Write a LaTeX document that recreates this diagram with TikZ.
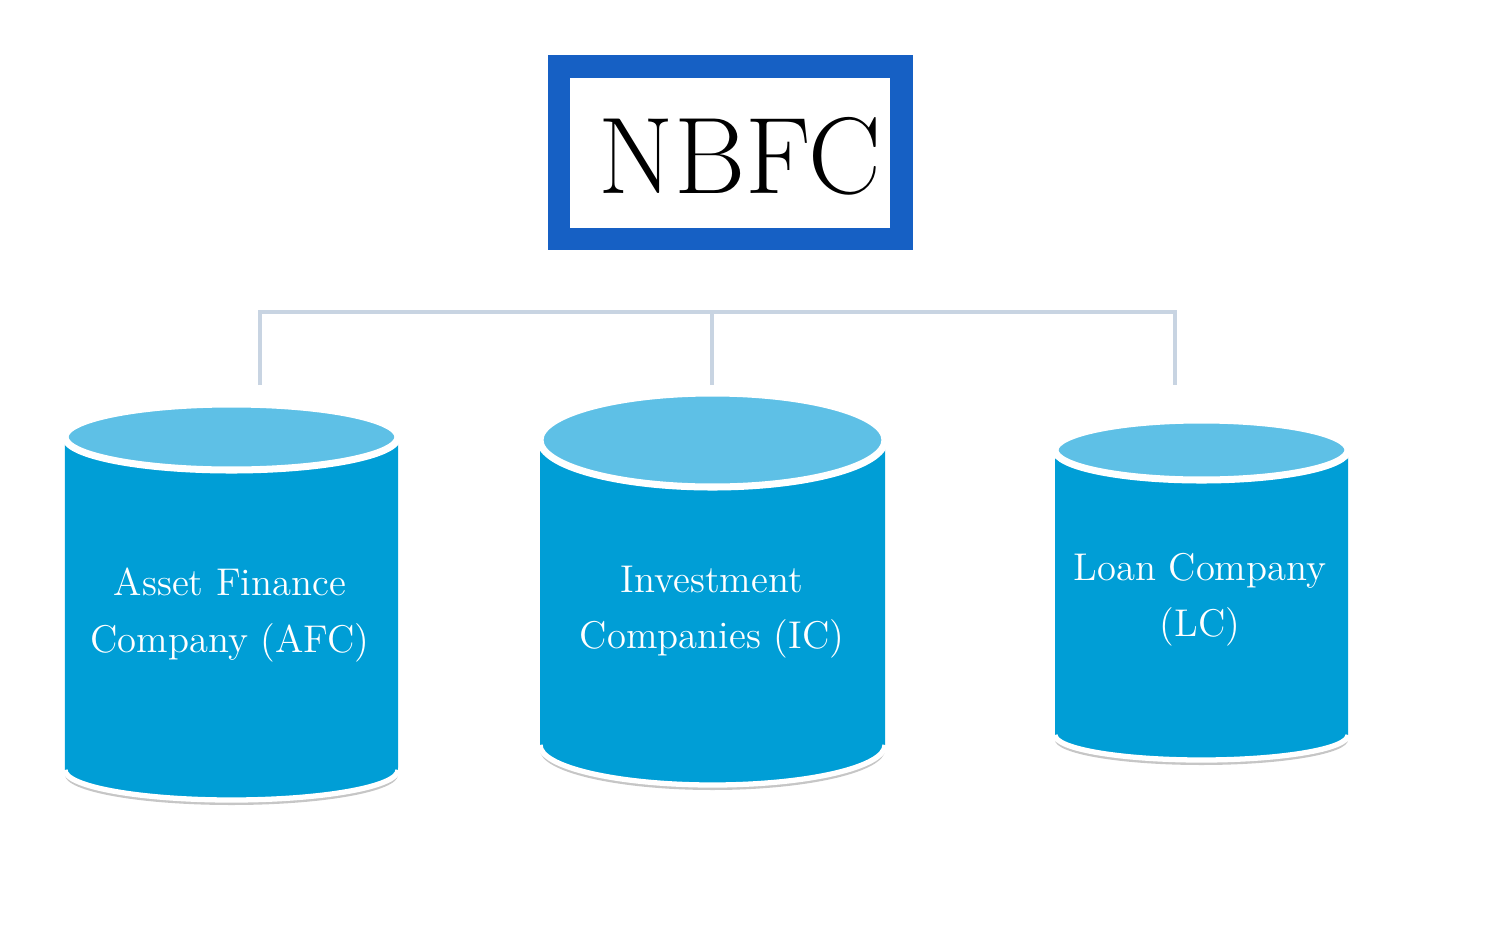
\documentclass[tikz,border=0pt]{standalone}
\usepackage{tikz}
\usetikzlibrary{positioning}
\definecolor{cylbody}{RGB}{0,158,214}
\definecolor{cyltop}{RGB}{94,192,230}
\definecolor{boxblue}{RGB}{22,96,196}
\definecolor{linegray}{RGB}{200,212,226}
\tikzset{
  label/.style={text=white, align=center, font=\fontsize{11}{16}\selectfont},
  conn/.style={draw=linegray, line width=1.2pt}
}
% cylinder: x1, x2, top y, top ry, bottom y, bottom ry
\newcommand{\cyl}[6]{%
  \fill[gray!45] (#1,#5-0.05) arc[start angle=180,end angle=360,x radius=(#2-#1)/2,y radius=#6] -- cycle;
  \fill[cylbody] (#1,#3) -- (#1,#5) arc[start angle=180,end angle=360,x radius=(#2-#1)/2,y radius=#6] -- (#2,#3) -- cycle;
  \draw[white, line width=1.5pt] (#1,#5) arc[start angle=180,end angle=360,x radius=(#2-#1)/2,y radius=#6];
  \filldraw[fill=cyltop, draw=white, line width=2pt] ({(#1+#2)/2},#3) ellipse[x radius=(#2-#1)/2,y radius=#4];
}
\begin{document}
\begin{tikzpicture}
  \useasboundingbox (0,0) rectangle (15,9.34);

  % Top box
  \fill[boxblue] (5.48,6.84) rectangle (9.13,8.79);
  \fill[white] (5.70,7.06) rectangle (8.90,8.56);
  \node (nbfc) at (7.40,7.78) {\fontsize{31}{31}\selectfont NBFC};

  % Cylinders
  \cyl{0.65}{3.98}{4.97}{0.33}{1.64}{0.30}
  \cyl{5.40}{8.85}{4.94}{0.47}{1.89}{0.40}
  \cyl{10.55}{13.48}{4.84}{0.30}{1.99}{0.25}

  \node[label] (afc) at (2.30,3.19) {Asset Finance\\Company (AFC)};
  \node[label] (ic) at (7.12,3.22) {Investment\\Companies (IC)};
  \node[label] (lc) at (12.00,3.34) {Loan Company\\(LC)};

  % Connectors
  \coordinate (hub) at (7.12,6.22);
  \coordinate (afctop) at (2.60,5.49);
  \coordinate (ictop) at (7.12,5.49);
  \coordinate (lctop) at (11.75,5.49);
  \draw[conn] (afctop) |- (hub) -| (lctop);
  \draw[conn] (hub) -- (ictop);
\end{tikzpicture}
\end{document}
